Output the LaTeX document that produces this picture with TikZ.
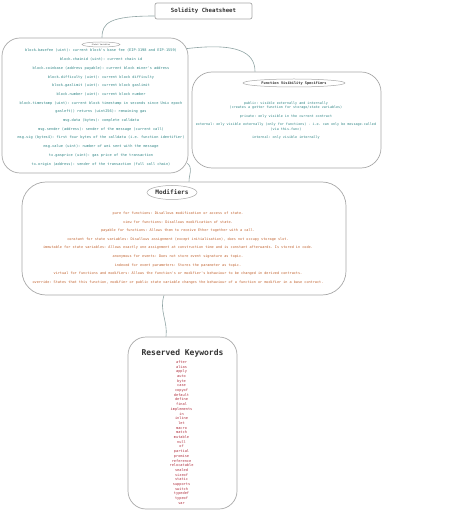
\documentclass[tikz,border=0pt]{standalone}
\usepackage{fontspec}
\setmonofont{DejaVu Sans Mono}
\usetikzlibrary{shapes.geometric}
\definecolor{boxgray}{HTML}{A8A8A8}
\definecolor{conngray}{HTML}{8FA3A3}
\definecolor{tealtxt}{HTML}{2F8585}
\definecolor{modtxt}{HTML}{C0622F}
\definecolor{kwtxt}{HTML}{B0303F}
\definecolor{darktxt}{HTML}{333333}
\begin{document}
\begin{tikzpicture}[x=1pt,y=-1pt,
  box/.style={draw=boxgray, line width=0.7pt, inner sep=0pt},
  conn/.style={draw=conngray, line width=0.6pt},
  oval/.style={ellipse, draw=boxgray, line width=0.5pt, inner sep=0pt, text=darktxt},
  tinytxt/.style={font=\ttfamily\fontsize{3.6}{8.7}\selectfont, align=center, inner sep=0pt}]
\useasboundingbox (0,0) rectangle (474,510);

% title
\node[box, rounded corners=2pt, minimum width=97pt, minimum height=16pt, text=darktxt,
      font=\ttfamily\bfseries\fontsize{5.7}{6}\selectfont] (title) at (203.5,11) {Solidity Cheatsheet};

% global variables
\node[box, rounded corners=18pt, minimum width=186pt, minimum height=135pt] (gv) at (95,105.5) {};
\node[oval, minimum width=38pt, minimum height=5pt, font=\ttfamily\fontsize{1.9}{2}\selectfont] (gvl) at (101,44.5) {Global Variables};
\node[tinytxt, text=tealtxt] (gvt) at (101,107.5) {%
block.basefee (uint): current block's base fee (EIP-3198 and EIP-1559)\\
block.chainid (uint): current chain id\\
block.coinbase (address payable): current block miner's address\\
block.difficulty (uint): current block difficulty\\
block.gaslimit (uint): current block gaslimit\\
block.number (uint): current block number\\
block.timestamp (uint): current block timestamp in seconds since Unix epoch\\
gasleft() returns (uint256): remaining gas\\
msg.data (bytes): complete calldata\\
msg.sender (address): sender of the message (current call)\\
msg.sig (bytes4): first four bytes of the calldata (i.e. function identifier)\\
msg.value (uint): number of wei sent with the message\\
tx.gasprice (uint): gas price of the transaction\\
tx.origin (address): sender of the transaction (full call chain)};

% function visibility
\node[box, rounded corners=20pt, minimum width=189pt, minimum height=96pt] (fvs) at (286.5,120) {};
\node[oval, minimum width=102pt, minimum height=8pt, font=\ttfamily\bfseries\fontsize{3.6}{4}\selectfont] (fvsl) at (294,83) {Function Visibility Specifiers};
\node[tinytxt, text=tealtxt, font=\ttfamily\fontsize{3.4}{4.5}\selectfont] (fvst) at (286,120.5) {%
public: visible externally and internally\\
(creates a getter function for storage/state variables)\\[4pt]
private: only visible in the current contract\\[4pt]
external: only visible externally (only for functions) - i.e. can only be message-called\\
(via this.func)\\[4pt]
internal: only visible internally};

% modifiers
\node[box, rounded corners=24pt, minimum width=324pt, minimum height=113pt] (mod) at (184,238.5) {};
\node[oval, minimum width=50pt, minimum height=14pt, font=\ttfamily\bfseries\fontsize{6.1}{7}\selectfont] (modl) at (172,192.5) {Modifiers};
\node[tinytxt, text=modtxt, font=\ttfamily\fontsize{3.5}{8.6}\selectfont] (modt) at (178,248) {%
pure for functions: Disallows modification or access of state.\\
view for functions: Disallows modification of state.\\
payable for functions: Allows them to receive Ether together with a call.\\
constant for state variables: Disallows assignment (except initialisation), does not occupy storage slot.\\
immutable for state variables: Allows exactly one assignment at construction time and is constant afterwards. Is stored in code.\\
anonymous for events: Does not store event signature as topic.\\
indexed for event parameters: Stores the parameter as topic.\\
virtual for functions and modifiers: Allows the function's or modifier's behaviour to be changed in derived contracts.\\
override: States that this function, modifier or public state variable changes the behaviour of a function or modifier in a base contract.};

% reserved keywords
\node[box, rounded corners=18pt, minimum width=109pt, minimum height=172pt] (rk) at (182.5,423) {};
\node[text=darktxt, inner sep=0pt, font=\ttfamily\bfseries\fontsize{8}{9}\selectfont] (rkl) at (182.5,353) {Reserved Keywords};
\node[tinytxt, text=kwtxt, font=\ttfamily\fontsize{3.6}{4.7}\selectfont] (rkt) at (181.5,432.5) {%
after\\alias\\apply\\auto\\byte\\case\\copyof\\default\\define\\final\\implements\\in\\inline\\let\\macro\\match\\mutable\\null\\of\\partial\\promise\\reference\\relocatable\\sealed\\sizeof\\static\\supports\\switch\\typedef\\typeof\\var};

% connectors
\coordinate (c1s) at ([yshift=-5pt]title.west);
\coordinate (c1e) at ([xshift=7pt]gv.north);
\draw[conn] (c1s) .. controls +(-45,0) and +(0,-15) .. (c1e);
\coordinate (c2s) at ([xshift=-2pt,yshift=-11pt]gv.north east);
\coordinate (c2e) at ([xshift=-31.5pt]fvs.north);
\draw[conn] (c2s) .. controls +(50,-6) and +(0,-20) .. (c2e);
\coordinate (c3s) at ([xshift=-1pt,yshift=10pt]gv.south east);
\coordinate (c3e) at ([xshift=5pt]mod.north);
\draw[conn] (c3s) .. controls +(6,5) and +(0,-8) .. (c3e);
\coordinate (c4s) at ([xshift=-20pt]mod.south);
\coordinate (c4e) at ([xshift=-16.5pt]rk.north);
\draw[conn] (c4s) .. controls +(-5,15) and +(2,-15) .. (c4e);
\end{tikzpicture}
\end{document}
